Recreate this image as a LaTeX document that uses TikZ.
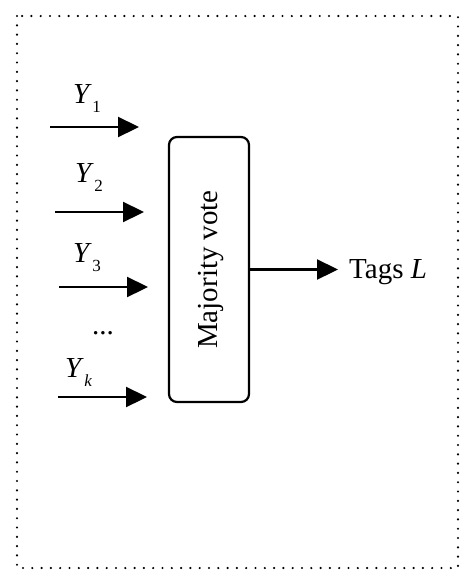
\documentclass[tikz,border=0pt]{standalone}
\usepackage{fontspec}
\setmainfont{Liberation Serif}
\usetikzlibrary{arrows.meta}
\tikzset{
  conn/.style={line width=2.3pt,-{Triangle[length=21pt,width=20pt]}},
  lbl/.style={font=\fontsize{29}{32}\selectfont,inner sep=0pt,anchor=base west},
  votebox/.style={draw,line width=2.2pt,rounded corners=8pt,minimum width=80pt,minimum height=265pt,inner sep=0pt},
  frame/.style={line width=2.4pt,line cap=round,dash pattern=on 0pt off 9.3pt}
}
\newcommand{\ysub}[1]{{\itshape Y}\hspace{3pt}\raisebox{-9pt}{\fontsize{17}{17}\selectfont #1}}
\begin{document}
\begin{tikzpicture}[x=1pt,y=-1pt]
\useasboundingbox (0,0) rectangle (474,587);
\draw[frame] (17,16) rectangle (458,568);
\node[votebox] (mv) at (209,269.5) {};
\node[font=\fontsize{29}{32}\selectfont,rotate=90,inner sep=0pt] (mvt) at (211,269.5) {Majority vote};
% inputs
\coordinate (s1) at (50,127);  \coordinate (e1) at (139,127);
\coordinate (s2) at (55,212);  \coordinate (e2) at (144,212);
\coordinate (s3) at (59,287);  \coordinate (e3) at (148,287);
\coordinate (sk) at (58,397);  \coordinate (ek) at (147,397);
\draw[conn] (s1) -- (e1);
\draw[conn] (s2) -- (e2);
\draw[conn] (s3) -- (e3);
\draw[conn] (sk) -- (ek);
\node[lbl] (y1) at (73,103) {\ysub{1}};
\node[lbl] (y2) at (75,182) {\ysub{2}};
\node[lbl] (y3) at (73,262) {\ysub{3}};
\node[lbl] (yk) at (65,377) {\ysub{\itshape k}};
\node[font=\fontsize{29}{32}\selectfont,inner sep=0pt,anchor=base] (dots) at (103,334) {...};
% output
\coordinate (eo) at (338,269.5);
\draw[conn] (mv.east) -- (eo);
\node[lbl] (tags) at (349,278) {Tags \itshape L};
\end{tikzpicture}
\end{document}
